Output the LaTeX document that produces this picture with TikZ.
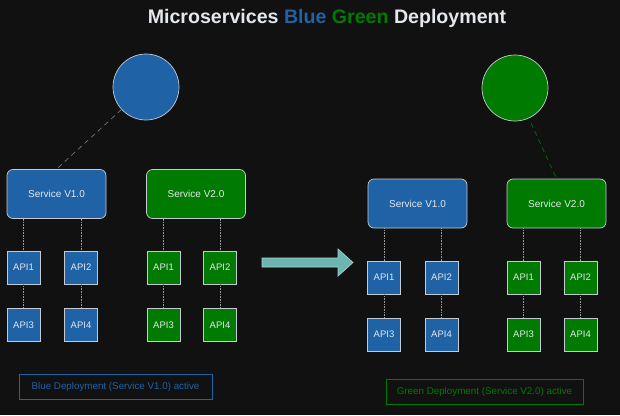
\documentclass[tikz,border=0pt]{standalone}
\usepackage{fontspec}
\setmainfont{Liberation Sans}
\usetikzlibrary{shapes}
\definecolor{bg}{RGB}{17,17,17}
\definecolor{bluedep}{RGB}{31,98,166}
\definecolor{greendep}{RGB}{0,122,0}
\definecolor{edge}{RGB}{196,202,210}
\definecolor{arrowteal}{RGB}{108,182,178}
\definecolor{txt}{RGB}{228,232,236}

\begin{document}
\begin{tikzpicture}[x=1pt,y=-1pt,
  svc/.style={draw=edge, line width=0.7pt, rounded corners=6pt, minimum width=99pt, minimum height=49pt,
              text=txt, font=\fontsize{10}{12}\selectfont},
  api/.style={draw=edge, line width=0.7pt, minimum size=33pt, inner sep=0pt,
              text=txt, font=\fontsize{9.5}{11}\selectfont},
  link/.style={densely dotted, line width=0.6pt, draw=gray!80!white},
  route/.style={dash pattern=on 5pt off 4pt, line width=0.6pt},
  legend/.style={line width=0.6pt, minimum height=25pt, font=\fontsize{9.8}{11}\selectfont}]
\fill[bg](0,0)rectangle(620,415);
% title
\node[text=txt, font=\bfseries\fontsize{19.6}{22}\selectfont] (title) at (327,18)
  {Microservices \textcolor{bluedep}{Blue} \textcolor{greendep}{Green} Deployment};
% services and their APIs
\foreach \g/\c/\v/\sx/\sy/\xa/\xb/\ya/\yb in {lb/bluedep/1.0/56.5/194/23.5/81/267.5/325,
                                            lg/greendep/2.0/196/194/163.5/220/267.5/325,
                                            rb/bluedep/1.0/417.5/203.5/384/441.5/277.5/334.5,
                                            rg/greendep/2.0/556.5/203.5/523.5/580.5/277.5/334.5}
{
\node[svc, fill=\c] (\g s) at (\sx,\sy) {Service V\v};
\node[api, fill=\c] (\g1) at (\xa,\ya) {API1};
\node[api, fill=\c] (\g2) at (\xb,\ya) {API2};
\node[api, fill=\c] (\g3) at (\xa,\yb) {API3};
\node[api, fill=\c] (\g4) at (\xb,\yb) {API4};
\draw[link] (\g s.south -| \g1) -- (\g1);
\draw[link] (\g s.south -| \g2) -- (\g2);
\draw[link] (\g1) -- (\g3);
\draw[link] (\g2) -- (\g4);
}
% routers
\node[circle, draw=edge, line width=0.7pt, fill=bluedep, minimum size=66pt] (bluerouter) at (146,87) {};
\node[circle, draw=edge, line width=0.7pt, fill=greendep, minimum size=66pt] (greenrouter) at (515,88) {};
\draw[route, gray] (bluerouter) -- (lbs.north);
\draw[route, greendep, shorten <=5pt] (greenrouter) -- (rgs.north);
% switch arrow
\draw[draw=arrowteal!60!white, fill=arrowteal, line width=0.7pt]
  (262,258)--(338,258)--(338,249)--(353,262.5)--(338,276)--(338,267)--(262,267)--cycle;
% legends
\node[legend, draw=bluedep, text=bluedep, minimum width=193pt] (bluenote) at (115.5,386.5)
  {Blue Deployment (Service V1.0) active};
\node[legend, draw=greendep, text=greendep, minimum width=197pt] (greennote) at (484.5,391.5)
  {Green Deployment (Service V2.0) active};
\end{tikzpicture}
\end{document}
